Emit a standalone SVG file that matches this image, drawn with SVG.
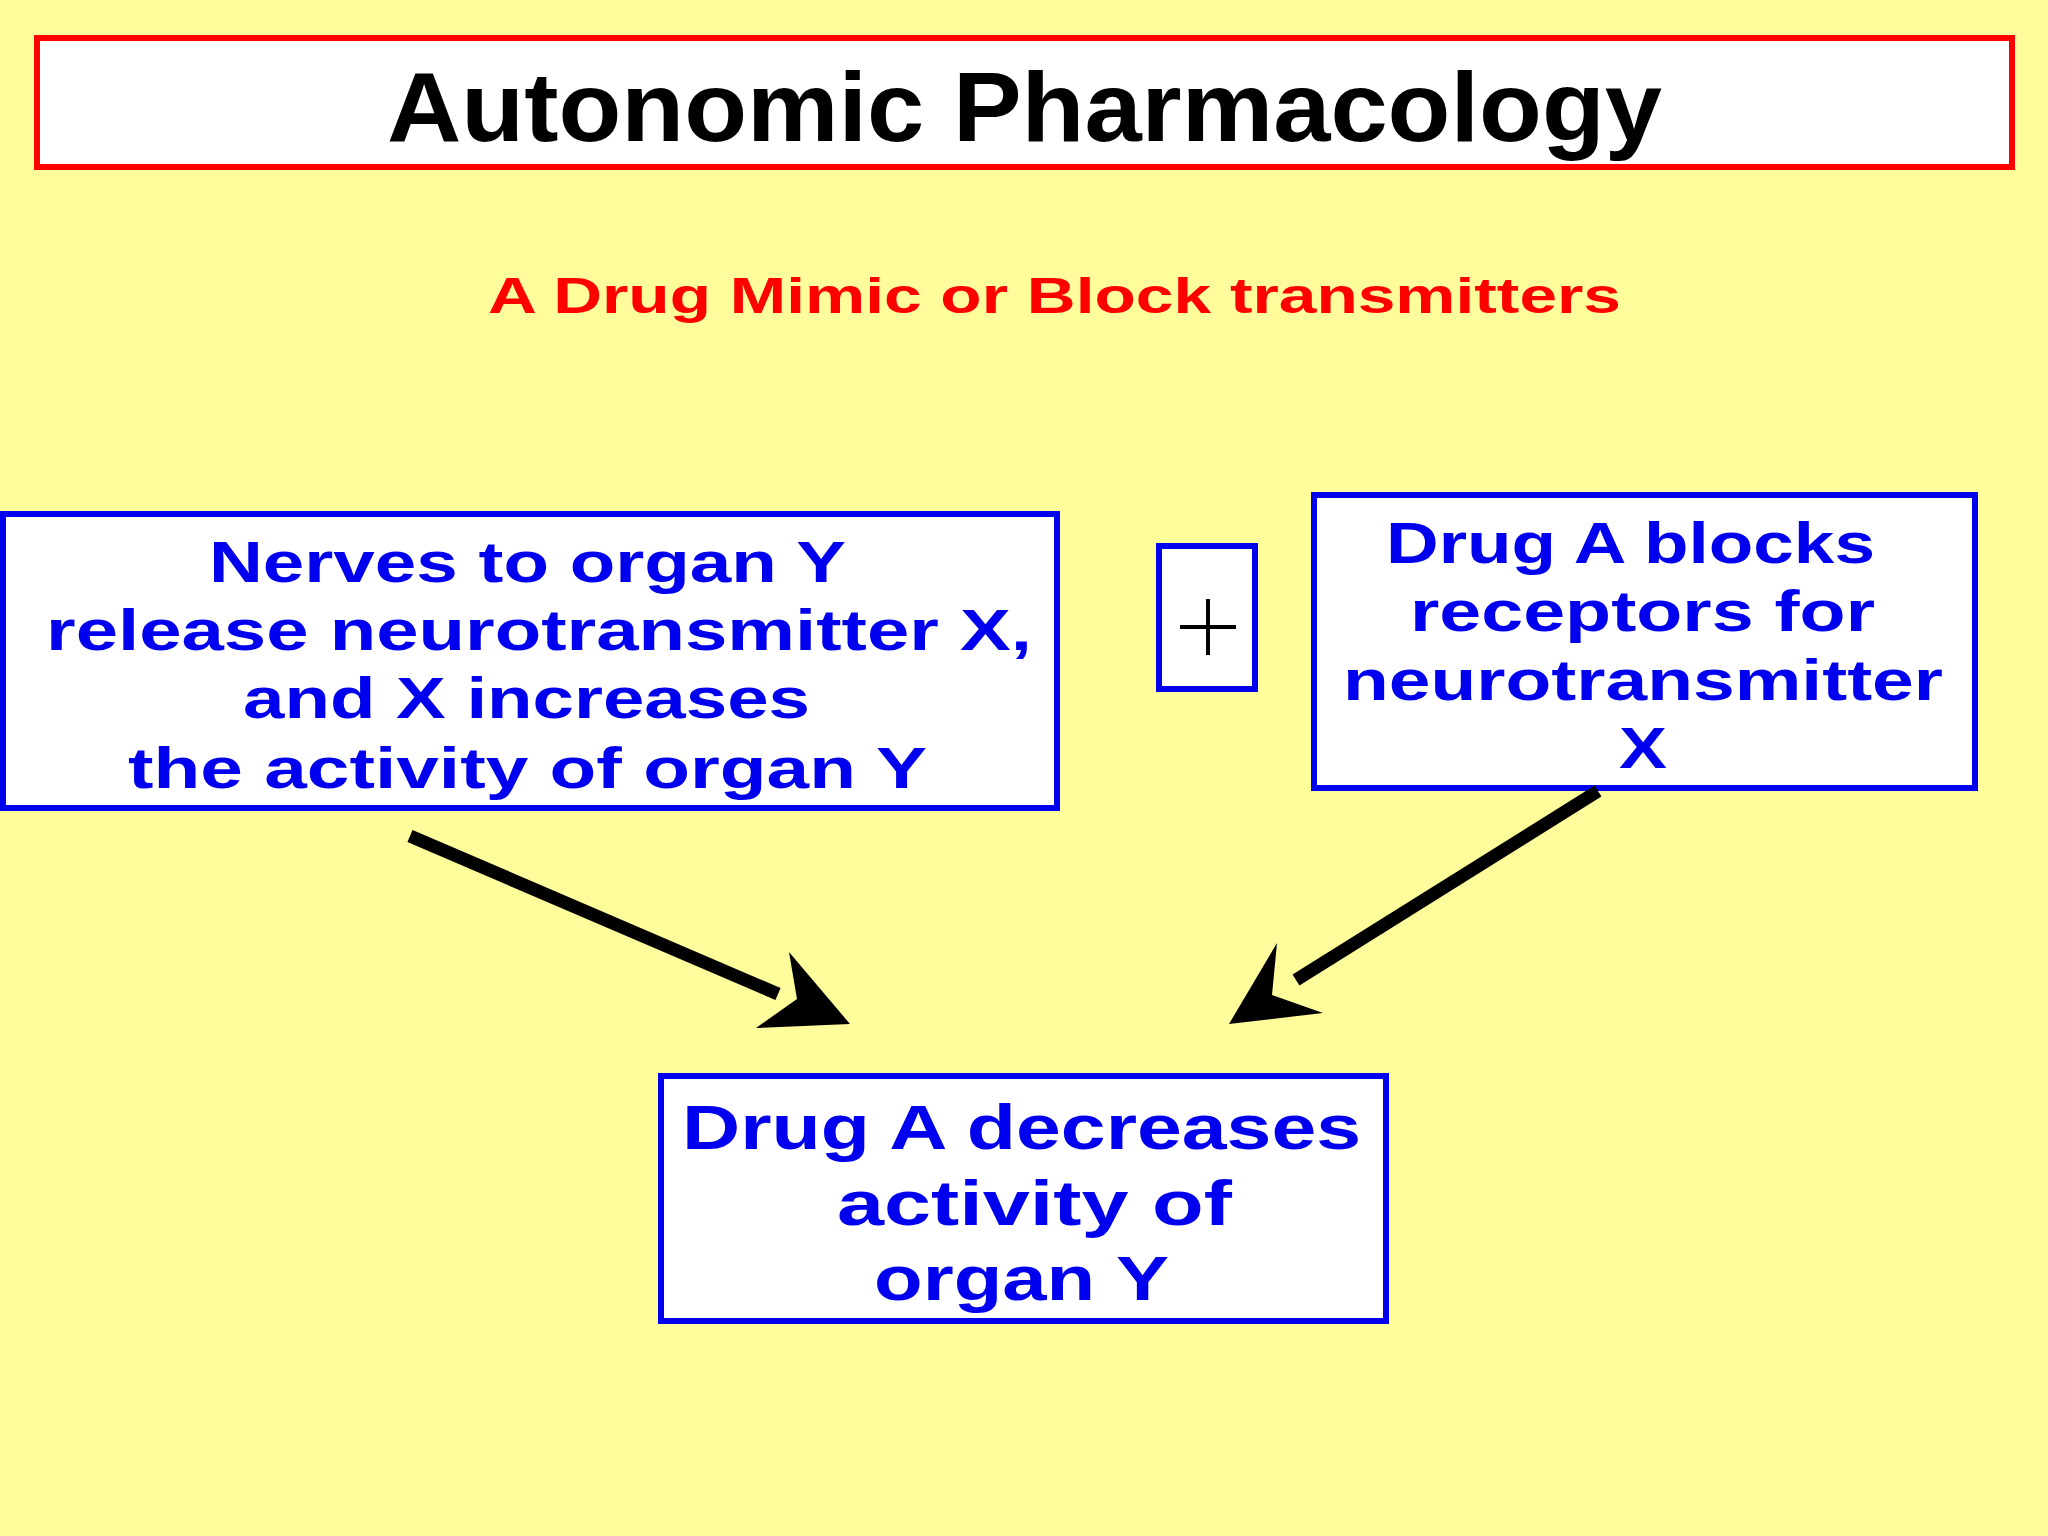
<svg xmlns="http://www.w3.org/2000/svg" width="2048" height="1536" viewBox="0 0 2048 1536">
<style>
.box{fill:#fff;stroke:#0000ee;stroke-width:6}
.t{font-family:"Liberation Sans",Arial,sans-serif;font-weight:bold;fill:#0000ee;font-size:57px;text-anchor:start}
.b{font-size:63px}
</style>
<rect width="2048" height="1536" fill="#fffc9c"/>
<g id="title">
<rect x="37" y="38" width="1975" height="129" fill="#fff" stroke="#ff0000" stroke-width="6"/>
<text x="387" y="141" font-family="Liberation Sans,Arial,sans-serif" font-weight="bold" font-size="98" textLength="1275" lengthAdjust="spacingAndGlyphs">Autonomic Pharmacology</text>
</g>
<g id="subtitle">
<text x="488" y="313" font-family="Liberation Sans,Arial,sans-serif" font-weight="bold" font-size="50" fill="#ff0000" textLength="1133" lengthAdjust="spacingAndGlyphs">A Drug Mimic or Block transmitters</text>
</g>
<g id="left">
<rect class="box" x="3" y="514" width="1054" height="294"/>
<text class="t" x="209" y="582" textLength="637" lengthAdjust="spacingAndGlyphs">Nerves to organ Y</text>
<text class="t" x="46" y="650" textLength="986" lengthAdjust="spacingAndGlyphs">release neurotransmitter X,</text>
<text class="t" x="243" y="718" textLength="567" lengthAdjust="spacingAndGlyphs">and X increases</text>
<text class="t" x="128" y="788" textLength="799" lengthAdjust="spacingAndGlyphs">the activity of organ Y</text>
</g>
<g id="plus">
<rect class="box" x="1159" y="546" width="96" height="143"/>
<path d="M1180 627H1236M1208 599V655" stroke="#000" stroke-width="4"/>
</g>
<g id="right">
<rect class="box" x="1314" y="495" width="661" height="293"/>
<text class="t" x="1386" y="563" textLength="489" lengthAdjust="spacingAndGlyphs">Drug A blocks</text>
<text class="t" x="1410" y="631" textLength="465" lengthAdjust="spacingAndGlyphs">receptors for</text>
<text class="t" x="1343" y="700" textLength="600" lengthAdjust="spacingAndGlyphs">neurotransmitter</text>
<text class="t" x="1619" y="768" textLength="48" lengthAdjust="spacingAndGlyphs">X</text>
</g>
<g id="bottom">
<rect class="box" x="661" y="1076" width="725" height="245"/>
<text class="t b" x="682" y="1149" textLength="679" lengthAdjust="spacingAndGlyphs">Drug A decreases</text>
<text class="t b" x="837" y="1225" textLength="395" lengthAdjust="spacingAndGlyphs">activity of</text>
<text class="t b" x="874" y="1300" textLength="295" lengthAdjust="spacingAndGlyphs">organ Y</text>
</g>
<g id="connectors">
<line x1="410" y1="836" x2="778" y2="994" stroke="#000" stroke-width="13"/>
<polygon points="850,1024 789,952 797,999 756,1028"/>
<line x1="1598" y1="791" x2="1296" y2="980" stroke="#000" stroke-width="13"/>
<polygon points="1229,1024 1277,943 1272,995 1323,1013"/>
</g>
</svg>
